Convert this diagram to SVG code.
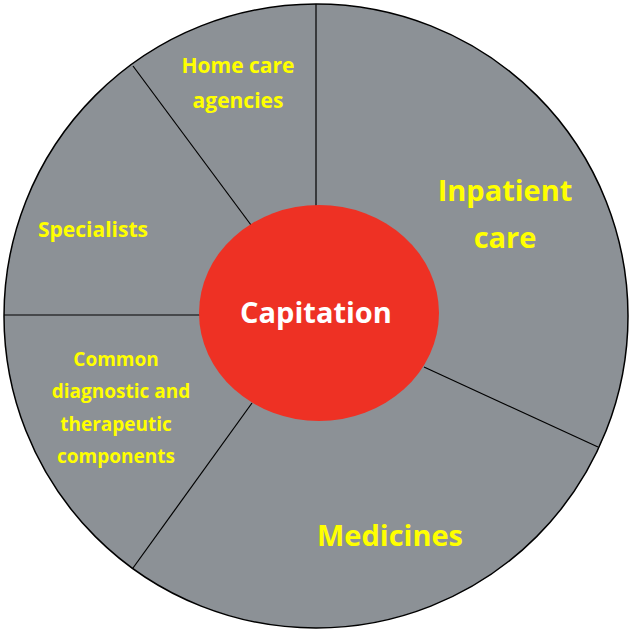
<svg xmlns="http://www.w3.org/2000/svg" width="633" height="631" viewBox="0 0 633 631">
<style>
.t{font-family:"Open Sans","Liberation Sans",sans-serif;font-weight:bold;fill:#ffff00;text-anchor:middle}
.c line{stroke:#000;stroke-width:1.2}
</style>
<rect width="633" height="631" fill="#fff"/>
<g id="wheel"><circle cx="316" cy="316" r="312" fill="#8c9196" stroke="#000" stroke-width="1.5"/></g>
<g class="c" id="connectors">
<line x1="316" y1="4" x2="316" y2="206"/>
<line x1="424" y1="367" x2="598" y2="447"/>
<line x1="252" y1="403" x2="133" y2="568"/>
<line x1="4" y1="315" x2="201" y2="315"/>
<line x1="251" y1="225" x2="133" y2="66"/>
</g>
<g id="center"><ellipse cx="319" cy="313" rx="120" ry="108" fill="#ee3124"/>
<text x="316" y="323" class="t" style="fill:#fff;font-size:29px">Capitation</text></g>
<g id="inpatient"><text class="t" x="505" y="201" font-size="29">Inpatient</text><text class="t" x="505" y="248" font-size="29">care</text></g>
<g id="medicines"><text class="t" x="390" y="546" font-size="29">Medicines</text></g>
<g id="home"><text class="t" x="238" y="73" font-size="21">Home care</text><text class="t" x="238" y="108" font-size="21">agencies</text></g>
<g id="specialists"><text class="t" x="93" y="237" font-size="21">Specialists</text></g>
<g id="common"><text class="t" x="116" y="366" font-size="19">Common</text><text class="t" x="121" y="398" font-size="19">diagnostic  and</text><text class="t" x="116" y="431" font-size="19">therapeutic</text><text class="t" x="116" y="463" font-size="19">components</text></g>
</svg>
